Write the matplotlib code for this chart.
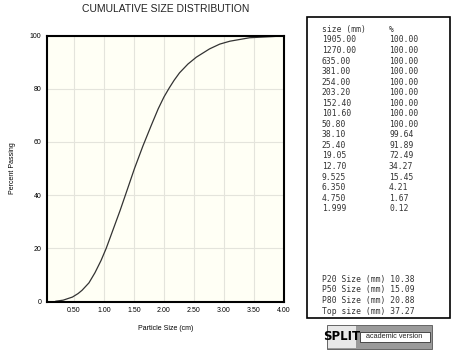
import matplotlib.pyplot as plt
from matplotlib.patches import Rectangle

# table values (SPLIT output)
sizes_mm = ["1905.00", "1270.00", "635.00", "381.00", "254.00", "203.20", "152.40",
            "101.60", "50.80", "38.10", "25.40", "19.05", "12.70", "9.525", "6.350",
            "4.750", "1.999"]
passing = ["100.00", "100.00", "100.00", "100.00", "100.00", "100.00", "100.00",
           "100.00", "100.00", "99.64", "91.89", "72.49", "34.27", "15.45", "4.21",
           "1.67", "0.12"]
p_labels = ["P20 Size (mm)", "P50 Size (mm)", "P80 Size (mm)", "Top size (mm)"]
p_values = ["10.38", "15.09", "20.88", "37.27"]

# curve (cm, % passing)
curve_x = [0.20, 0.32, 0.475, 0.57, 0.635, 0.75, 0.85, 0.9525, 1.038, 1.10, 1.27,
           1.40, 1.509, 1.65, 1.79, 1.905, 2.0, 2.088, 2.17, 2.26, 2.40, 2.54,
           2.76, 2.93, 3.10, 3.43, 3.81, 4.0]
curve_y = [0.12, 0.5, 1.67, 3.0, 4.21, 7.0, 10.8, 15.45, 20.0, 23.8, 34.27,
           42.8, 50.0, 58.5, 66.3, 72.49, 76.9, 80.3, 83.2, 86.0, 89.3, 91.89,
           95.0, 96.8, 97.9, 99.2, 99.64, 99.9]

plt.rcParams["font.family"] = ["Liberation Sans", "DejaVu Sans"]

fig = plt.figure(figsize=(4.74, 3.55), dpi=100)
ax = fig.add_axes([0.0985, 0.1507, 0.5005, 0.749])
ax.set_facecolor("#fffff5")
ax.plot(curve_x, curve_y, color="#333333", lw=0.9)
ax.set_xlim(0.046, 4.0)
ax.set_ylim(0, 100)
ax.set_xticks([0.5, 1.0, 1.5, 2.0, 2.5, 3.0, 3.5, 4.0])
ax.set_xticklabels(["0.50", "1.00", "1.50", "2.00", "2.50", "3.00", "3.50", "4.00"])
ax.set_yticks([0, 20, 40, 60, 80, 100])
ax.grid(True, color="#e4e4dc", lw=0.8)
ax.tick_params(length=0, labelsize=5, pad=4)
for s in ax.spines.values():
    s.set_linewidth(1.5)
    s.set_color("black")
ax.set_xlabel("Particle Size (cm)", fontsize=5, labelpad=8)
ax.set_ylabel("Percent Passing", fontsize=5, labelpad=10)

fig.text(0.349, 0.976, "CUMULATIVE SIZE DISTRIBUTION", ha="center", va="center",
         fontsize=7.5, color="#222222")

# table box
W, H = 474, 355
fig.patches.append(Rectangle((306.7 / W, 1 - 318.3 / H), (450 - 306.7) / W, (318.3 - 16.7) / H,
                             transform=fig.transFigure, fill=False, ec="black", lw=1.2))
mono = dict(family="DejaVu Sans Mono", fontsize=5.8, color="#333333", va="center")
c1, c2 = 321.7 / W, 389 / W
fig.text(c1, 1 - 29.3 / H, "size (mm)", **mono)
fig.text(c2, 1 - 29.3 / H, "%", **mono)
for i, (s, p) in enumerate(zip(sizes_mm, passing)):
    y = 1 - (39.9 + i * 10.55) / H
    fig.text(c1, y, s, **mono)
    fig.text(c2, y, p, **mono)
for i, (lab, v) in enumerate(zip(p_labels, p_values)):
    y = 1 - (279.3 + i * 10.6) / H
    fig.text(c1, y, lab + " " + v, **mono)

# SPLIT logo
fig.patches.append(Rectangle((326.7 / W, 1 - 349 / H), 105 / W, 24 / H,
                             transform=fig.transFigure, fc="#9a9a9a", ec="#555555", lw=0.6))
fig.patches.append(Rectangle((327.5 / W, 1 - 348 / H), 28 / W, 22 / H,
                             transform=fig.transFigure, fc="#e8e8e8", ec="none"))
fig.patches.append(Rectangle((359.5 / W, 1 - 342 / H), 70 / W, 10 / H,
                             transform=fig.transFigure, fc="white", ec="#333333", lw=0.6))
fig.text(341.5 / W, 1 - 337 / H, "SPLIT", ha="center", va="center", fontsize=8.5,
         fontweight="bold", family="Liberation Sans Narrow", color="black")
fig.text(394.5 / W, 1 - 337 / H, "academic version", ha="center", va="center",
         fontsize=5.2, color="#222222")

fig.savefig("out.png", dpi=100)
